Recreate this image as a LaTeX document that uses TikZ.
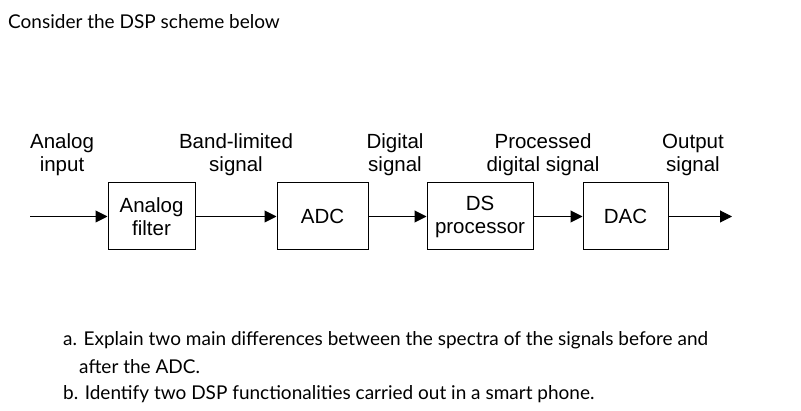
\documentclass[tikz,border=0pt]{standalone}
\usepackage{fontspec}
\setmainfont{Liberation Sans}
\newfontfamily\lato{Lato}
\usetikzlibrary{arrows.meta}
\begin{document}
\begin{tikzpicture}[x=1pt,y=-1pt,
  blk/.style={draw,line width=1pt,minimum height=67pt,align=center,font=\fontsize{20.5}{23}\selectfont,inner sep=0pt},
  lbl/.style={align=center,font=\fontsize{20.5}{23}\selectfont},
  txt/.style={anchor=west,font=\lato\fontsize{19}{20}\selectfont,inner sep=0pt},
  arr/.style={line width=1pt,-{Triangle[length=12pt,width=12pt]}}]
\useasboundingbox (0,0) rectangle (801,411);
\node[txt] (t) at (8,22) {Consider the DSP scheme below};
\node[blk,minimum width=87pt] (f) at (151.5,216.5) {Analog\\filter};
\node[blk,minimum width=91pt] (adc) at (322.5,216.5) {ADC};
\node[blk,minimum width=106pt] (ds) at (480,216.5) {DS\\processor};
\node[blk,minimum width=85pt] (dac) at (625.5,216.5) {DAC};
\coordinate (in) at (30,216.5);
\coordinate (out) at (732,216.5);
\draw[arr] (in) -- (f);
\draw[arr] (f) -- (adc);
\draw[arr] (adc) -- (ds);
\draw[arr] (ds) -- (dac);
\draw[arr] (dac) -- (out);
\node[lbl] (l1) at (62,155) {Analog\\input};
\node[lbl] (l2) at (236,155) {Band-limited\\signal};
\node[lbl] (l3) at (395,155) {Digital\\signal};
\node[lbl] (l4) at (543,155) {Processed\\digital signal};
\node[lbl] (l5) at (693,155) {Output\\signal};
\node[txt] (qa) at (63,340) {a. Explain two main differences between the spectra of the signals before and};
\node[txt] (qa2) at (79,367) {after the ADC.};
\node[txt] (qb) at (63,394) {b. Identify two DSP functionalities carried out in a smart phone.};
\end{tikzpicture}
\end{document}
